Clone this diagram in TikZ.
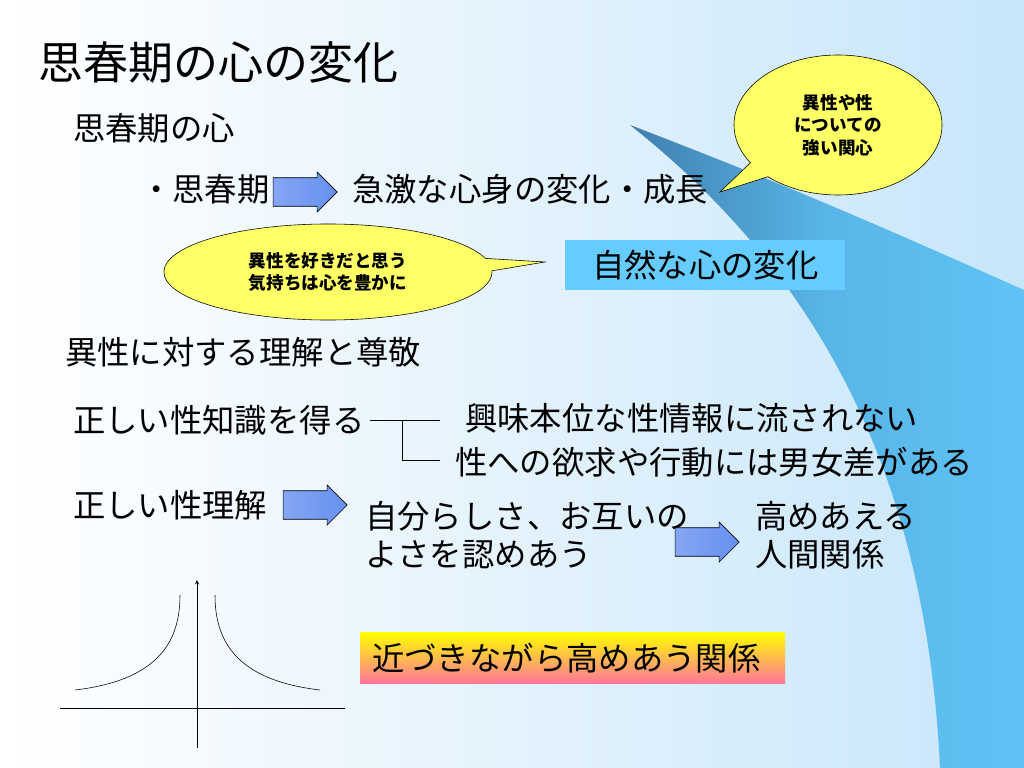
\documentclass[tikz,border=0pt]{standalone}
\usepackage{fontspec}
\setmainfont{Noto Sans CJK JP}
\usetikzlibrary{shapes.arrows,shapes.callouts}
\definecolor{bgblue}{HTML}{C8E6FA}
\definecolor{swoosh}{HTML}{5FC3F5}
\definecolor{swooshdark}{HTML}{3F7FB0}
\definecolor{callyellow}{HTML}{FFFF66}
\definecolor{boxblue}{HTML}{66CCFF}
\definecolor{arrowblue}{HTML}{6690F0}
\definecolor{boxpink}{HTML}{FF7799}
\begin{document}
\begin{tikzpicture}
    [x=0.025cm,y=-0.025cm,
    txt/.style = {anchor=west, inner sep=0pt, font=\fontsize{23}{27}\selectfont},
    bigarrow/.style = {single arrow, draw=black, thin, shading=axis,
                       left color=arrowblue!80, right color=arrowblue,
                       minimum height=1.6cm, minimum width=1cm,
                       single arrow head extend=0.05cm},
    bubble/.style = {ellipse callout, draw=black, thin, fill=callyellow,
                     align=center, font=\bfseries\fontsize{12.5}{16}\selectfont}]
    % background
    \shade[left color=white, right color=bgblue] (0,0) rectangle (1024,768);
    \useasboundingbox (0,0) rectangle (1024,768);
    % swoosh
    \shade[left color=swooshdark, right color=swoosh, middle color=swoosh!80!swooshdark]
        (630,125) .. controls (800,190) and (900,235) .. (1024,290)
        -- (1024,768) -- (940,768)
        .. controls (925,450) and (800,260) .. (630,125);
    % title
    \node[anchor=west, inner sep=0pt, font=\fontsize{32}{36}\selectfont] (title) at (38,62) {思春期の心の変化};
    \node[txt] (heart) at (73,128) {思春期の心};
    \node[txt] (puberty) at (140,189) {・思春期};
    \node[bigarrow] (arr1) at (298,192) {};
    \node[txt] (change) at (352,189) {急激な心身の変化・成長};
    % callouts
    \node[bubble, minimum width=5.2cm, minimum height=3.5cm, callout absolute pointer={(720,192)}]
        (interest) at (838,125) {異性や性\\についての\\強い関心};
    \node[bubble, minimum width=8.2cm, minimum height=2.4cm, callout absolute pointer={(545,262)}]
        (rich) at (328,272) {異性を好きだと思う\\気持ちは心を豊かに};
    \node[txt, fill=boxblue, minimum width=7cm, minimum height=1.25cm, inner xsep=10pt]
        (natural) at (565,265) {自然な心の変化};
    % understanding
    \node[txt] (respect) at (65,352) {異性に対する理解と尊敬};
    \node[txt] (knowledge) at (73,420) {正しい性知識を得る};
    \node[txt] (info) at (465,418) {興味本位な性情報に流されない};
    \node[txt] (diff) at (455,462) {性への欲求や行動には男女差がある};
    \coordinate (b1) at (370,420);
    \coordinate (b2) at (440,420);
    \coordinate (b3) at (402,420);
    \coordinate (b4) at (440,460);
    \draw[thin] (b1) -- (b2);
    \draw[thin] (b3) |- (b4);
    \node[txt] (correct) at (73,505) {正しい性理解};
    \node[bigarrow] (arr2) at (308,505) {};
    \node[txt, align=left] (self) at (365,535) {自分らしさ、お互いの\\よさを認めあう};
    \node[bigarrow] (arr3) at (700,542) {};
    \node[txt, align=left] (relation) at (755,535) {高めあえる\\人間関係};
    % graph
    \coordinate (yb) at (197,748);
    \coordinate (yt) at (197,580);
    \coordinate (xl) at (60,708);
    \coordinate (xr) at (345,708);
    \draw[-stealth] (yb) -- (yt);
    \draw (xl) -- (xr);
    \draw (75,690) .. controls (160,680) and (180,640) .. (180,595);
    \draw (215,595) .. controls (215,640) and (235,680) .. (320,690);
    \shade[top color=yellow, bottom color=boxpink] (360,632) rectangle (785,683);
    \node[txt] (closer) at (372,658) {近づきながら高めあう関係};
\end{tikzpicture}
\end{document}
